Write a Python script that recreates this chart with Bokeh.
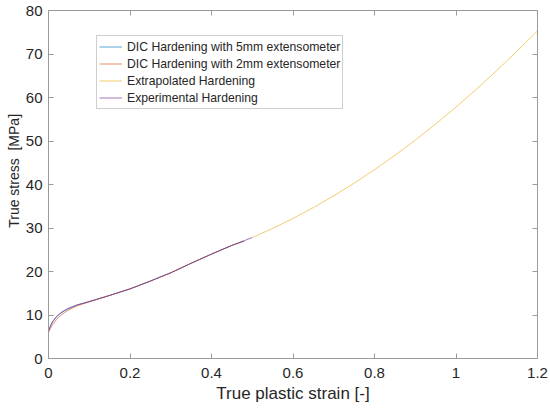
from bokeh.plotting import figure
from bokeh.models import (LinearAxis, FixedTicker, CustomJSTickFormatter, Legend,
                          LegendItem, Range1d, CustomLabelingPolicy)
from bokeh.embed import file_html
from bokeh.resources import INLINE

# ---- data ----
exp_strain = [0.0, 0.005, 0.01, 0.02, 0.03, 0.04, 0.05, 0.07, 0.1, 0.15, 0.2,
              0.25, 0.3, 0.35, 0.4, 0.45, 0.5]
exp_stress = [6.3, 7.6, 8.5, 9.7, 10.5, 11.1, 11.6, 12.3, 13.1, 14.5, 16.0,
              17.8, 19.7, 21.9, 24.0, 26.0, 27.8]

dic5_strain = [0.0, 0.005, 0.01, 0.02, 0.03, 0.04, 0.05, 0.07, 0.1, 0.15, 0.2,
               0.25, 0.3, 0.35, 0.4, 0.45, 0.48]
dic5_stress = [6.3, 7.5, 8.4, 9.6, 10.4, 11.0, 11.5, 12.3, 13.1, 14.5, 16.0,
               17.8, 19.7, 21.9, 24.0, 26.0, 27.0]

dic2_strain = [0.0, 0.005, 0.01, 0.02, 0.03, 0.04, 0.05, 0.07, 0.1, 0.15, 0.2,
               0.25, 0.3, 0.35, 0.4, 0.45, 0.48]
dic2_stress = [6.0, 7.0, 7.8, 9.0, 9.9, 10.6, 11.2, 12.1, 13.0, 14.5, 16.0,
               17.8, 19.7, 21.9, 24.0, 26.0, 27.0]

ext_strain = [0.5, 0.55, 0.6, 0.65, 0.7, 0.75, 0.8, 0.85, 0.9, 0.95, 1.0,
              1.05, 1.1, 1.15, 1.2]
ext_stress = [27.8, 29.9, 32.2, 34.7, 37.4, 40.3, 43.4, 46.7, 50.2, 53.9, 57.8,
              61.9, 66.2, 70.7, 75.3]

x_ticks = [0, 0.2, 0.4, 0.6, 0.8, 1.0, 1.2]
y_ticks = [0, 10, 20, 30, 40, 50, 60, 70, 80]

labels = ["DIC Hardening with 5mm extensometer",
          "DIC Hardening with 2mm extensometer",
          "Extrapolated Hardening",
          "Experimental Hardening"]
colors = ["#0072BD", "#D95319", "#EDB120", "#7E2F8E"]

FONT = "Liberation Sans"
TXT = "#262626"
AX = "#9a9a9a"
NB = "\u00a0"

p = figure(width=550, height=409, output_backend="svg", toolbar_location=None,
           x_range=Range1d(0, 1.2), y_range=Range1d(0, 80),
           min_border_left=48, min_border_right=13, min_border_top=10,
           min_border_bottom=51, x_axis_label="True plastic strain [-]",
           y_axis_label=NB * 7 + "True stress" + NB * 2 + "[MPa]")
p.outline_line_color = None
p.xgrid.visible = False
p.ygrid.visible = False
p.background_fill_color = "white"
p.border_fill_color = "white"

fmt = CustomJSTickFormatter(code="return String(Math.round(tick*10)/10);")
no_labels = CustomLabelingPolicy(
    code="try { return new indices.constructor(indices.size, 0) } catch (e) { return indices }")

def style_axis(ax):
    ax.axis_line_color = AX
    ax.major_tick_line_color = AX
    ax.minor_tick_line_color = None
    ax.major_tick_in = 5
    ax.major_tick_out = 0
    ax.major_label_text_font = FONT
    ax.major_label_text_color = TXT
    ax.major_label_text_font_size = "15px"
    ax.axis_label_text_font = FONT
    ax.axis_label_text_color = TXT
    ax.axis_label_text_font_style = "normal"

for ax in p.xaxis:
    ax.ticker = FixedTicker(ticks=x_ticks)
    ax.formatter = fmt
    style_axis(ax)
    ax.major_label_standoff = 9
    ax.axis_label_standoff = 3
    ax.axis_label_text_font_size = "17px"
for ax in p.yaxis:
    ax.ticker = FixedTicker(ticks=y_ticks)
    style_axis(ax)
    ax.major_label_standoff = 6
    ax.axis_label_standoff = 1
    ax.axis_label_text_font_size = "14px"

empty_fmt = CustomJSTickFormatter(code="return '.';")
top = LinearAxis(ticker=FixedTicker(ticks=x_ticks), major_label_policy=no_labels,
                 formatter=empty_fmt)
style_axis(top)
top.major_label_standoff = 0
top.major_label_text_font_size = "1px"
p.add_layout(top, "above")
right = LinearAxis(ticker=FixedTicker(ticks=y_ticks), major_label_policy=no_labels,
                   formatter=empty_fmt)
style_axis(right)
right.major_label_standoff = 0
right.major_label_text_font_size = "1px"
p.add_layout(right, "right")

series = [(dic5_strain, dic5_stress), (dic2_strain, dic2_stress),
          (ext_strain, ext_stress), (exp_strain, exp_stress)]
renderers = []
for (xs, ys), c in zip(series, colors):
    r = p.line(xs, ys, line_color=c, line_width=1, line_alpha=0.65)
    renderers.append(r)

legend = Legend(items=[LegendItem(label=l, renderers=[r]) for l, r in zip(labels, renderers)],
                location=(48, 249), margin=0, padding=2, spacing=0,
                label_height=17, glyph_height=17, glyph_width=23, label_standoff=5,
                label_text_font=FONT, label_text_font_size="12.2px",
                label_text_color=TXT, border_line_color="#a0a0a0",
                border_line_width=1, background_fill_color="white",
                background_fill_alpha=1.0)
p.add_layout(legend, "center")

open("out.html", "w").write(file_html(p, INLINE))
